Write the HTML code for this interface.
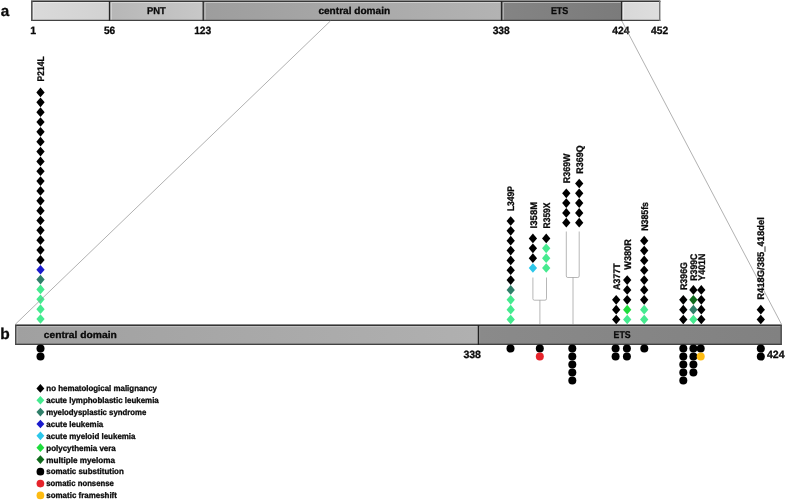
<!DOCTYPE html>
<html lang="en"><head><meta charset="utf-8"><title>Figure</title>
<style>html,body{margin:0;padding:0;background:#fff}svg{display:block}</style>
</head><body>
<svg width="785" height="500" viewBox="0 0 785 500" font-family="'Liberation Sans', sans-serif" font-weight="bold" text-rendering="geometricPrecision" fill="#0a0a0a" stroke="#0a0a0a" stroke-width="0.3" stroke-linejoin="round">
<rect width="785" height="500" fill="#fff" stroke="none"/>
<g stroke="#8f8f8f" stroke-width="0.65" fill="none" stroke-linejoin="round">
<path d="M532.9 277.5V298.7Q532.9 300.2 534.4 300.2H545Q546.5 300.2 546.5 298.7V277.5M539.9 300.2V324.5"/>
<path d="M566.3 231.5V276Q566.3 277.5 567.8 277.5H577.7Q579.2 277.5 579.2 276V231.5M573 277.5V324.5"/>
</g>
<defs>
<linearGradient id="g1" x1="0" y1="0" x2="1" y2="0"><stop offset="0" stop-color="#dadada"/><stop offset="1" stop-color="#d2d2d2"/></linearGradient>
<linearGradient id="g2" x1="0" y1="0" x2="1" y2="0"><stop offset="0" stop-color="#b6b6b6"/><stop offset="1" stop-color="#c8c8c8"/></linearGradient>
<linearGradient id="g3" x1="0" y1="0" x2="1" y2="0"><stop offset="0" stop-color="#9d9d9d"/><stop offset="1" stop-color="#b3b3b3"/></linearGradient>
<linearGradient id="g4" x1="0" y1="0" x2="1" y2="0"><stop offset="0" stop-color="#848484"/><stop offset="1" stop-color="#7b7b7b"/></linearGradient>
<linearGradient id="g5" x1="0" y1="0" x2="1" y2="0"><stop offset="0" stop-color="#d8d8d8"/><stop offset="1" stop-color="#dedede"/></linearGradient>
<linearGradient id="h1" x1="0" y1="0" x2="1" y2="0"><stop offset="0" stop-color="#a0a0a0"/><stop offset="1" stop-color="#b0b0b0"/></linearGradient>
<linearGradient id="h2" x1="0" y1="0" x2="1" y2="0"><stop offset="0" stop-color="#8a8a8a"/><stop offset="1" stop-color="#818181"/></linearGradient>
</defs>
<g stroke="none">
<rect x="31.5" y="1" width="78.00" height="19.5" fill="url(#g1)"/>
<path d="M33.40 20V2.5H108.70" fill="none" stroke="#fff" stroke-opacity="0.45" stroke-width="0.9"/>
<rect x="109.5" y="1" width="93.70" height="19.5" fill="url(#g2)"/>
<path d="M111.40 20V2.5H202.40" fill="none" stroke="#fff" stroke-opacity="0.45" stroke-width="0.9"/>
<rect x="203.2" y="1" width="298.30" height="19.5" fill="url(#g3)"/>
<path d="M205.10 20V2.5H500.70" fill="none" stroke="#fff" stroke-opacity="0.45" stroke-width="0.9"/>
<rect x="501.5" y="1" width="120.10" height="19.5" fill="url(#g4)"/>
<path d="M503.40 20V2.5H620.80" fill="none" stroke="#fff" stroke-opacity="0.45" stroke-width="0.9"/>
<rect x="621.6" y="1" width="38.80" height="19.5" fill="url(#g5)"/>
<path d="M623.50 20V2.5H659.60" fill="none" stroke="#fff" stroke-opacity="0.45" stroke-width="0.9"/>
<rect x="31" y="0" width="629.4" height="1.1" fill="#8c8c8c"/>
<rect x="31" y="1" width="629.4" height="1" fill="#383838"/>
<rect x="31" y="19.8" width="629.4" height="1.1" fill="#303030"/>
<rect x="31" y="1" width="1.6" height="19.9" fill="#555"/>
<rect x="659" y="1" width="1.4" height="19.9" fill="#777"/>
<rect x="108.85" y="1" width="1.3" height="19.9" fill="#262626"/>
<rect x="202.55" y="1" width="1.3" height="19.9" fill="#262626"/>
<rect x="500.85" y="1" width="1.3" height="19.9" fill="#262626"/>
<rect x="620.95" y="1" width="1.3" height="19.9" fill="#262626"/>
</g>
<text x="0.80" y="15.60" font-size="15.2" text-anchor="start">a</text>
<text x="156.30" y="14.30" font-size="9.9" text-anchor="middle" textLength="18.8" lengthAdjust="spacingAndGlyphs">PNT</text>
<text x="354.30" y="14.30" font-size="9.9" text-anchor="middle" textLength="71.8" lengthAdjust="spacingAndGlyphs">central domain</text>
<text x="559.60" y="14.30" font-size="9.9" text-anchor="middle" textLength="17.4" lengthAdjust="spacingAndGlyphs">ETS</text>
<text x="33.20" y="33.60" font-size="10.6" text-anchor="middle">1</text>
<text x="109.60" y="33.60" font-size="10.6" text-anchor="middle" textLength="11.3" lengthAdjust="spacingAndGlyphs">56</text>
<text x="202.70" y="33.60" font-size="10.6" text-anchor="middle" textLength="17.1" lengthAdjust="spacingAndGlyphs">123</text>
<text x="501.20" y="33.60" font-size="10.6" text-anchor="middle" textLength="17.1" lengthAdjust="spacingAndGlyphs">338</text>
<text x="620.90" y="33.60" font-size="10.6" text-anchor="middle" textLength="17.1" lengthAdjust="spacingAndGlyphs">424</text>
<text x="659.60" y="33.60" font-size="10.6" text-anchor="middle" textLength="17.1" lengthAdjust="spacingAndGlyphs">452</text>
<g stroke="none">
<rect x="15" y="325" width="463.5" height="19.5" fill="url(#h1)"/>
<rect x="478.5" y="325" width="303.3" height="19.5" fill="url(#h2)"/>
<path d="M16.9 343.6V326.5H477.6" fill="none" stroke="#fff" stroke-opacity="0.3" stroke-width="0.9"/>
<path d="M479.6 343.6V326.5H780.6" fill="none" stroke="#fff" stroke-opacity="0.2" stroke-width="0.9"/>
<rect x="15" y="324.1" width="766.8" height="1" fill="#7c7c7c"/>
<rect x="15" y="325" width="766.8" height="1" fill="#343434"/>
<rect x="15" y="343.7" width="766.8" height="1.2" fill="#343434"/>
<rect x="15" y="325" width="1.4" height="19.9" fill="#4a4a4a"/>
<rect x="780.5" y="325" width="1.3" height="19.9" fill="#4a4a4a"/>
<rect x="477.75" y="325" width="1.35" height="19.9" fill="#222"/>
</g>
<text x="0.30" y="339.20" font-size="15.5" text-anchor="start">b</text>
<text x="43.70" y="338.20" font-size="9.7" text-anchor="start" textLength="73.2" lengthAdjust="spacingAndGlyphs">central domain</text>
<text x="622.10" y="338.10" font-size="9.9" text-anchor="middle" textLength="17.0" lengthAdjust="spacingAndGlyphs">ETS</text>
<text x="472.20" y="357.70" font-size="10.6" text-anchor="middle" textLength="17.6" lengthAdjust="spacingAndGlyphs">338</text>
<text x="775.80" y="358.30" font-size="10.6" text-anchor="middle" textLength="17.6" lengthAdjust="spacingAndGlyphs">424</text>
<path d="M40.50 87.60L44.65 92.45L40.50 97.30L36.35 92.45Z" fill="#000000" stroke="none"/>
<path d="M40.50 97.45L44.65 102.30L40.50 107.15L36.35 102.30Z" fill="#000000" stroke="none"/>
<path d="M40.50 107.30L44.65 112.15L40.50 117.00L36.35 112.15Z" fill="#000000" stroke="none"/>
<path d="M40.50 117.15L44.65 122.00L40.50 126.85L36.35 122.00Z" fill="#000000" stroke="none"/>
<path d="M40.50 127.00L44.65 131.85L40.50 136.70L36.35 131.85Z" fill="#000000" stroke="none"/>
<path d="M40.50 136.85L44.65 141.70L40.50 146.55L36.35 141.70Z" fill="#000000" stroke="none"/>
<path d="M40.50 146.70L44.65 151.55L40.50 156.40L36.35 151.55Z" fill="#000000" stroke="none"/>
<path d="M40.50 156.55L44.65 161.40L40.50 166.25L36.35 161.40Z" fill="#000000" stroke="none"/>
<path d="M40.50 166.40L44.65 171.25L40.50 176.10L36.35 171.25Z" fill="#000000" stroke="none"/>
<path d="M40.50 176.25L44.65 181.10L40.50 185.95L36.35 181.10Z" fill="#000000" stroke="none"/>
<path d="M40.50 186.10L44.65 190.95L40.50 195.80L36.35 190.95Z" fill="#000000" stroke="none"/>
<path d="M40.50 195.95L44.65 200.80L40.50 205.65L36.35 200.80Z" fill="#000000" stroke="none"/>
<path d="M40.50 205.80L44.65 210.65L40.50 215.50L36.35 210.65Z" fill="#000000" stroke="none"/>
<path d="M40.50 215.65L44.65 220.50L40.50 225.35L36.35 220.50Z" fill="#000000" stroke="none"/>
<path d="M40.50 225.50L44.65 230.35L40.50 235.20L36.35 230.35Z" fill="#000000" stroke="none"/>
<path d="M40.50 235.35L44.65 240.20L40.50 245.05L36.35 240.20Z" fill="#000000" stroke="none"/>
<path d="M40.50 245.20L44.65 250.05L40.50 254.90L36.35 250.05Z" fill="#000000" stroke="none"/>
<path d="M40.50 255.05L44.65 259.90L40.50 264.75L36.35 259.90Z" fill="#000000" stroke="none"/>
<path d="M40.50 264.90L44.65 269.75L40.50 274.60L36.35 269.75Z" fill="#1a1acd" stroke="none"/>
<path d="M40.50 274.75L44.65 279.60L40.50 284.45L36.35 279.60Z" fill="#2f7f69" stroke="none"/>
<path d="M40.50 284.60L44.65 289.45L40.50 294.30L36.35 289.45Z" fill="#45ea8f" stroke="none"/>
<path d="M40.50 294.45L44.65 299.30L40.50 304.15L36.35 299.30Z" fill="#45ea8f" stroke="none"/>
<path d="M40.50 304.30L44.65 309.15L40.50 314.00L36.35 309.15Z" fill="#45ea8f" stroke="none"/>
<path d="M40.50 314.15L44.65 319.00L40.50 323.85L36.35 319.00Z" fill="#45ea8f" stroke="none"/>
<path d="M510.70 216.15L514.85 221.00L510.70 225.85L506.55 221.00Z" fill="#000000" stroke="none"/>
<path d="M510.70 226.00L514.85 230.85L510.70 235.70L506.55 230.85Z" fill="#000000" stroke="none"/>
<path d="M510.70 235.85L514.85 240.70L510.70 245.55L506.55 240.70Z" fill="#000000" stroke="none"/>
<path d="M510.70 245.70L514.85 250.55L510.70 255.40L506.55 250.55Z" fill="#000000" stroke="none"/>
<path d="M510.70 255.55L514.85 260.40L510.70 265.25L506.55 260.40Z" fill="#000000" stroke="none"/>
<path d="M510.70 265.40L514.85 270.25L510.70 275.10L506.55 270.25Z" fill="#000000" stroke="none"/>
<path d="M510.70 275.25L514.85 280.10L510.70 284.95L506.55 280.10Z" fill="#000000" stroke="none"/>
<path d="M510.70 285.10L514.85 289.95L510.70 294.80L506.55 289.95Z" fill="#2f7f69" stroke="none"/>
<path d="M510.70 294.95L514.85 299.80L510.70 304.65L506.55 299.80Z" fill="#45ea8f" stroke="none"/>
<path d="M510.70 304.80L514.85 309.65L510.70 314.50L506.55 309.65Z" fill="#45ea8f" stroke="none"/>
<path d="M510.70 314.65L514.85 319.50L510.70 324.35L506.55 319.50Z" fill="#45ea8f" stroke="none"/>
<path d="M532.90 233.60L537.05 238.45L532.90 243.30L528.75 238.45Z" fill="#000000" stroke="none"/>
<path d="M532.90 243.45L537.05 248.30L532.90 253.15L528.75 248.30Z" fill="#000000" stroke="none"/>
<path d="M532.90 253.30L537.05 258.15L532.90 263.00L528.75 258.15Z" fill="#000000" stroke="none"/>
<path d="M532.90 263.15L537.05 268.00L532.90 272.85L528.75 268.00Z" fill="#2cc7ea" stroke="none"/>
<path d="M546.20 233.60L550.35 238.45L546.20 243.30L542.05 238.45Z" fill="#000000" stroke="none"/>
<path d="M546.20 243.45L550.35 248.30L546.20 253.15L542.05 248.30Z" fill="#45ea8f" stroke="none"/>
<path d="M546.20 253.30L550.35 258.15L546.20 263.00L542.05 258.15Z" fill="#45ea8f" stroke="none"/>
<path d="M546.20 263.15L550.35 268.00L546.20 272.85L542.05 268.00Z" fill="#45ea8f" stroke="none"/>
<path d="M566.30 188.45L570.45 193.30L566.30 198.15L562.15 193.30Z" fill="#000000" stroke="none"/>
<path d="M566.30 198.25L570.45 203.10L566.30 207.95L562.15 203.10Z" fill="#000000" stroke="none"/>
<path d="M566.30 208.05L570.45 212.90L566.30 217.75L562.15 212.90Z" fill="#000000" stroke="none"/>
<path d="M566.30 217.85L570.45 222.70L566.30 227.55L562.15 222.70Z" fill="#000000" stroke="none"/>
<path d="M579.20 178.65L583.35 183.50L579.20 188.35L575.05 183.50Z" fill="#000000" stroke="none"/>
<path d="M579.20 188.45L583.35 193.30L579.20 198.15L575.05 193.30Z" fill="#000000" stroke="none"/>
<path d="M579.20 198.25L583.35 203.10L579.20 207.95L575.05 203.10Z" fill="#000000" stroke="none"/>
<path d="M579.20 208.05L583.35 212.90L579.20 217.75L575.05 212.90Z" fill="#000000" stroke="none"/>
<path d="M579.20 217.85L583.35 222.70L579.20 227.55L575.05 222.70Z" fill="#000000" stroke="none"/>
<path d="M616.20 294.95L620.35 299.80L616.20 304.65L612.05 299.80Z" fill="#000000" stroke="none"/>
<path d="M616.20 304.80L620.35 309.65L616.20 314.50L612.05 309.65Z" fill="#000000" stroke="none"/>
<path d="M616.20 314.65L620.35 319.50L616.20 324.35L612.05 319.50Z" fill="#000000" stroke="none"/>
<path d="M627.20 275.25L631.35 280.10L627.20 284.95L623.05 280.10Z" fill="#000000" stroke="none"/>
<path d="M627.20 285.10L631.35 289.95L627.20 294.80L623.05 289.95Z" fill="#000000" stroke="none"/>
<path d="M627.20 294.95L631.35 299.80L627.20 304.65L623.05 299.80Z" fill="#000000" stroke="none"/>
<path d="M627.20 304.80L631.35 309.65L627.20 314.50L623.05 309.65Z" fill="#1fdc3c" stroke="none"/>
<path d="M627.20 314.65L631.35 319.50L627.20 324.35L623.05 319.50Z" fill="#45ea8f" stroke="none"/>
<path d="M644.20 235.85L648.35 240.70L644.20 245.55L640.05 240.70Z" fill="#000000" stroke="none"/>
<path d="M644.20 245.70L648.35 250.55L644.20 255.40L640.05 250.55Z" fill="#000000" stroke="none"/>
<path d="M644.20 255.55L648.35 260.40L644.20 265.25L640.05 260.40Z" fill="#000000" stroke="none"/>
<path d="M644.20 265.40L648.35 270.25L644.20 275.10L640.05 270.25Z" fill="#000000" stroke="none"/>
<path d="M644.20 275.25L648.35 280.10L644.20 284.95L640.05 280.10Z" fill="#000000" stroke="none"/>
<path d="M644.20 285.10L648.35 289.95L644.20 294.80L640.05 289.95Z" fill="#000000" stroke="none"/>
<path d="M644.20 294.95L648.35 299.80L644.20 304.65L640.05 299.80Z" fill="#000000" stroke="none"/>
<path d="M644.20 304.80L648.35 309.65L644.20 314.50L640.05 309.65Z" fill="#45ea8f" stroke="none"/>
<path d="M644.20 314.65L648.35 319.50L644.20 324.35L640.05 319.50Z" fill="#45ea8f" stroke="none"/>
<path d="M683.30 294.95L687.45 299.80L683.30 304.65L679.15 299.80Z" fill="#000000" stroke="none"/>
<path d="M683.30 304.80L687.45 309.65L683.30 314.50L679.15 309.65Z" fill="#000000" stroke="none"/>
<path d="M683.30 314.65L687.45 319.50L683.30 324.35L679.15 319.50Z" fill="#000000" stroke="none"/>
<path d="M693.40 285.10L697.55 289.95L693.40 294.80L689.25 289.95Z" fill="#000000" stroke="none"/>
<path d="M693.40 294.95L697.55 299.80L693.40 304.65L689.25 299.80Z" fill="#0f6a1c" stroke="none"/>
<path d="M693.40 304.80L697.55 309.65L693.40 314.50L689.25 309.65Z" fill="#2f7f69" stroke="none"/>
<path d="M693.40 314.65L697.55 319.50L693.40 324.35L689.25 319.50Z" fill="#45ea8f" stroke="none"/>
<path d="M701.30 285.10L705.45 289.95L701.30 294.80L697.15 289.95Z" fill="#000000" stroke="none"/>
<path d="M701.30 294.95L705.45 299.80L701.30 304.65L697.15 299.80Z" fill="#000000" stroke="none"/>
<path d="M701.30 304.80L705.45 309.65L701.30 314.50L697.15 309.65Z" fill="#000000" stroke="none"/>
<path d="M701.30 314.65L705.45 319.50L701.30 324.35L697.15 319.50Z" fill="#000000" stroke="none"/>
<path d="M760.80 304.80L764.95 309.65L760.80 314.50L756.65 309.65Z" fill="#000000" stroke="none"/>
<path d="M760.80 314.65L764.95 319.50L760.80 324.35L756.65 319.50Z" fill="#000000" stroke="none"/>
<g stroke="#8c8c8c" stroke-width="0.68" fill="none"><path d="M330.5 20.9L15.3 324.3"/><path d="M621.8 20.9L781.5 324.3"/></g>
<circle cx="40.50" cy="348.60" r="4.00" fill="#000000" stroke="none"/>
<circle cx="40.50" cy="356.60" r="4.00" fill="#000000" stroke="none"/>
<circle cx="510.50" cy="348.60" r="4.00" fill="#000000" stroke="none"/>
<circle cx="539.80" cy="348.60" r="4.00" fill="#000000" stroke="none"/>
<circle cx="539.80" cy="356.60" r="4.00" fill="#e6232b" stroke="none"/>
<circle cx="572.30" cy="348.60" r="4.00" fill="#000000" stroke="none"/>
<circle cx="572.30" cy="356.60" r="4.00" fill="#000000" stroke="none"/>
<circle cx="572.30" cy="364.60" r="4.00" fill="#000000" stroke="none"/>
<circle cx="572.30" cy="372.60" r="4.00" fill="#000000" stroke="none"/>
<circle cx="572.30" cy="380.60" r="4.00" fill="#000000" stroke="none"/>
<circle cx="615.60" cy="348.60" r="4.00" fill="#000000" stroke="none"/>
<circle cx="615.60" cy="356.60" r="4.00" fill="#000000" stroke="none"/>
<circle cx="626.90" cy="348.60" r="4.00" fill="#000000" stroke="none"/>
<circle cx="626.90" cy="356.60" r="4.00" fill="#000000" stroke="none"/>
<circle cx="644.30" cy="348.60" r="4.00" fill="#000000" stroke="none"/>
<circle cx="683.30" cy="348.60" r="4.00" fill="#000000" stroke="none"/>
<circle cx="683.30" cy="356.60" r="4.00" fill="#000000" stroke="none"/>
<circle cx="683.30" cy="364.60" r="4.00" fill="#000000" stroke="none"/>
<circle cx="683.30" cy="372.60" r="4.00" fill="#000000" stroke="none"/>
<circle cx="683.30" cy="380.60" r="4.00" fill="#000000" stroke="none"/>
<circle cx="693.40" cy="348.60" r="4.00" fill="#000000" stroke="none"/>
<circle cx="693.40" cy="356.60" r="4.00" fill="#000000" stroke="none"/>
<circle cx="693.40" cy="364.60" r="4.00" fill="#000000" stroke="none"/>
<circle cx="693.40" cy="372.60" r="4.00" fill="#000000" stroke="none"/>
<circle cx="700.70" cy="348.60" r="4.00" fill="#000000" stroke="none"/>
<circle cx="700.70" cy="356.60" r="4.00" fill="#fdbb12" stroke="none"/>
<circle cx="760.80" cy="348.60" r="4.00" fill="#000000" stroke="none"/>
<circle cx="760.80" cy="356.60" r="4.00" fill="#000000" stroke="none"/>
<text transform="translate(44.34 81.40) rotate(-90)" font-size="9.6" textLength="25" lengthAdjust="spacingAndGlyphs">P214L</text>
<text transform="translate(514.34 211.10) rotate(-90)" font-size="9.6" textLength="25" lengthAdjust="spacingAndGlyphs">L349P</text>
<text transform="translate(536.54 228.40) rotate(-90)" font-size="9.6" textLength="26.6" lengthAdjust="spacingAndGlyphs">I358M</text>
<text transform="translate(549.74 228.40) rotate(-90)" font-size="9.6" textLength="25.8" lengthAdjust="spacingAndGlyphs">R359X</text>
<text transform="translate(569.94 183.20) rotate(-90)" font-size="9.6" textLength="29.7" lengthAdjust="spacingAndGlyphs">R369W</text>
<text transform="translate(582.54 173.70) rotate(-90)" font-size="9.6" textLength="28.3" lengthAdjust="spacingAndGlyphs">R369Q</text>
<text transform="translate(619.54 290.10) rotate(-90)" font-size="9.6" textLength="26.9" lengthAdjust="spacingAndGlyphs">A377T</text>
<text transform="translate(630.54 269.70) rotate(-90)" font-size="9.6" textLength="30.5" lengthAdjust="spacingAndGlyphs">W380R</text>
<text transform="translate(647.84 230.80) rotate(-90)" font-size="9.6" textLength="28.8" lengthAdjust="spacingAndGlyphs">N385fs</text>
<text transform="translate(686.74 290.10) rotate(-90)" font-size="9.6" textLength="28.1" lengthAdjust="spacingAndGlyphs">R396G</text>
<text transform="translate(696.54 280.70) rotate(-90)" font-size="9.6" textLength="27.1" lengthAdjust="spacingAndGlyphs">R399C</text>
<text transform="translate(705.44 280.70) rotate(-90)" font-size="9.6" textLength="27.1" lengthAdjust="spacingAndGlyphs">Y401N</text>
<text transform="translate(764.44 299.70) rotate(-90)" font-size="9.6" textLength="82.5" lengthAdjust="spacingAndGlyphs">R418G/385_418del</text>
<path d="M40.40 384.05L44.35 388.40L40.40 392.75L36.45 388.40Z" fill="#000000" stroke="none"/>
<text x="46.30" y="391.35" font-size="8.2" text-anchor="start" textLength="110.7" lengthAdjust="spacingAndGlyphs">no hematological malignancy</text>
<path d="M40.40 395.91L44.35 400.26L40.40 404.61L36.45 400.26Z" fill="#45ea8f" stroke="none"/>
<text x="46.30" y="403.21" font-size="8.2" text-anchor="start" textLength="112.5" lengthAdjust="spacingAndGlyphs">acute lymphoblastic leukemia</text>
<path d="M40.40 407.77L44.35 412.12L40.40 416.47L36.45 412.12Z" fill="#2f7f69" stroke="none"/>
<text x="46.30" y="415.07" font-size="8.2" text-anchor="start" textLength="100.0" lengthAdjust="spacingAndGlyphs">myelodysplastic syndrome</text>
<path d="M40.40 419.63L44.35 423.98L40.40 428.33L36.45 423.98Z" fill="#1a1acd" stroke="none"/>
<text x="46.30" y="426.93" font-size="8.2" text-anchor="start" textLength="57.0" lengthAdjust="spacingAndGlyphs">acute leukemia</text>
<path d="M40.40 431.49L44.35 435.84L40.40 440.19L36.45 435.84Z" fill="#2cc7ea" stroke="none"/>
<text x="46.30" y="438.79" font-size="8.2" text-anchor="start" textLength="89.2" lengthAdjust="spacingAndGlyphs">acute myeloid leukemia</text>
<path d="M40.40 443.35L44.35 447.70L40.40 452.05L36.45 447.70Z" fill="#1fdc3c" stroke="none"/>
<text x="46.30" y="450.65" font-size="8.2" text-anchor="start" textLength="69.5" lengthAdjust="spacingAndGlyphs">polycythemia vera</text>
<path d="M40.40 455.21L44.35 459.56L40.40 463.91L36.45 459.56Z" fill="#0f6a1c" stroke="none"/>
<text x="46.30" y="462.51" font-size="8.2" text-anchor="start" textLength="68.7" lengthAdjust="spacingAndGlyphs">multiple myeloma</text>
<circle cx="40.40" cy="471.72" r="3.85" fill="#000000" stroke="none"/>
<text x="46.30" y="474.37" font-size="8.2" text-anchor="start" textLength="77.5" lengthAdjust="spacingAndGlyphs">somatic substitution</text>
<circle cx="40.40" cy="483.58" r="3.85" fill="#e6232b" stroke="none"/>
<text x="46.30" y="486.23" font-size="8.2" text-anchor="start" textLength="67.5" lengthAdjust="spacingAndGlyphs">somatic nonsense</text>
<circle cx="40.40" cy="495.44" r="3.85" fill="#fdbb12" stroke="none"/>
<text x="46.30" y="498.09" font-size="8.2" text-anchor="start" textLength="70.6" lengthAdjust="spacingAndGlyphs">somatic frameshift</text>
</svg>
</body></html>
